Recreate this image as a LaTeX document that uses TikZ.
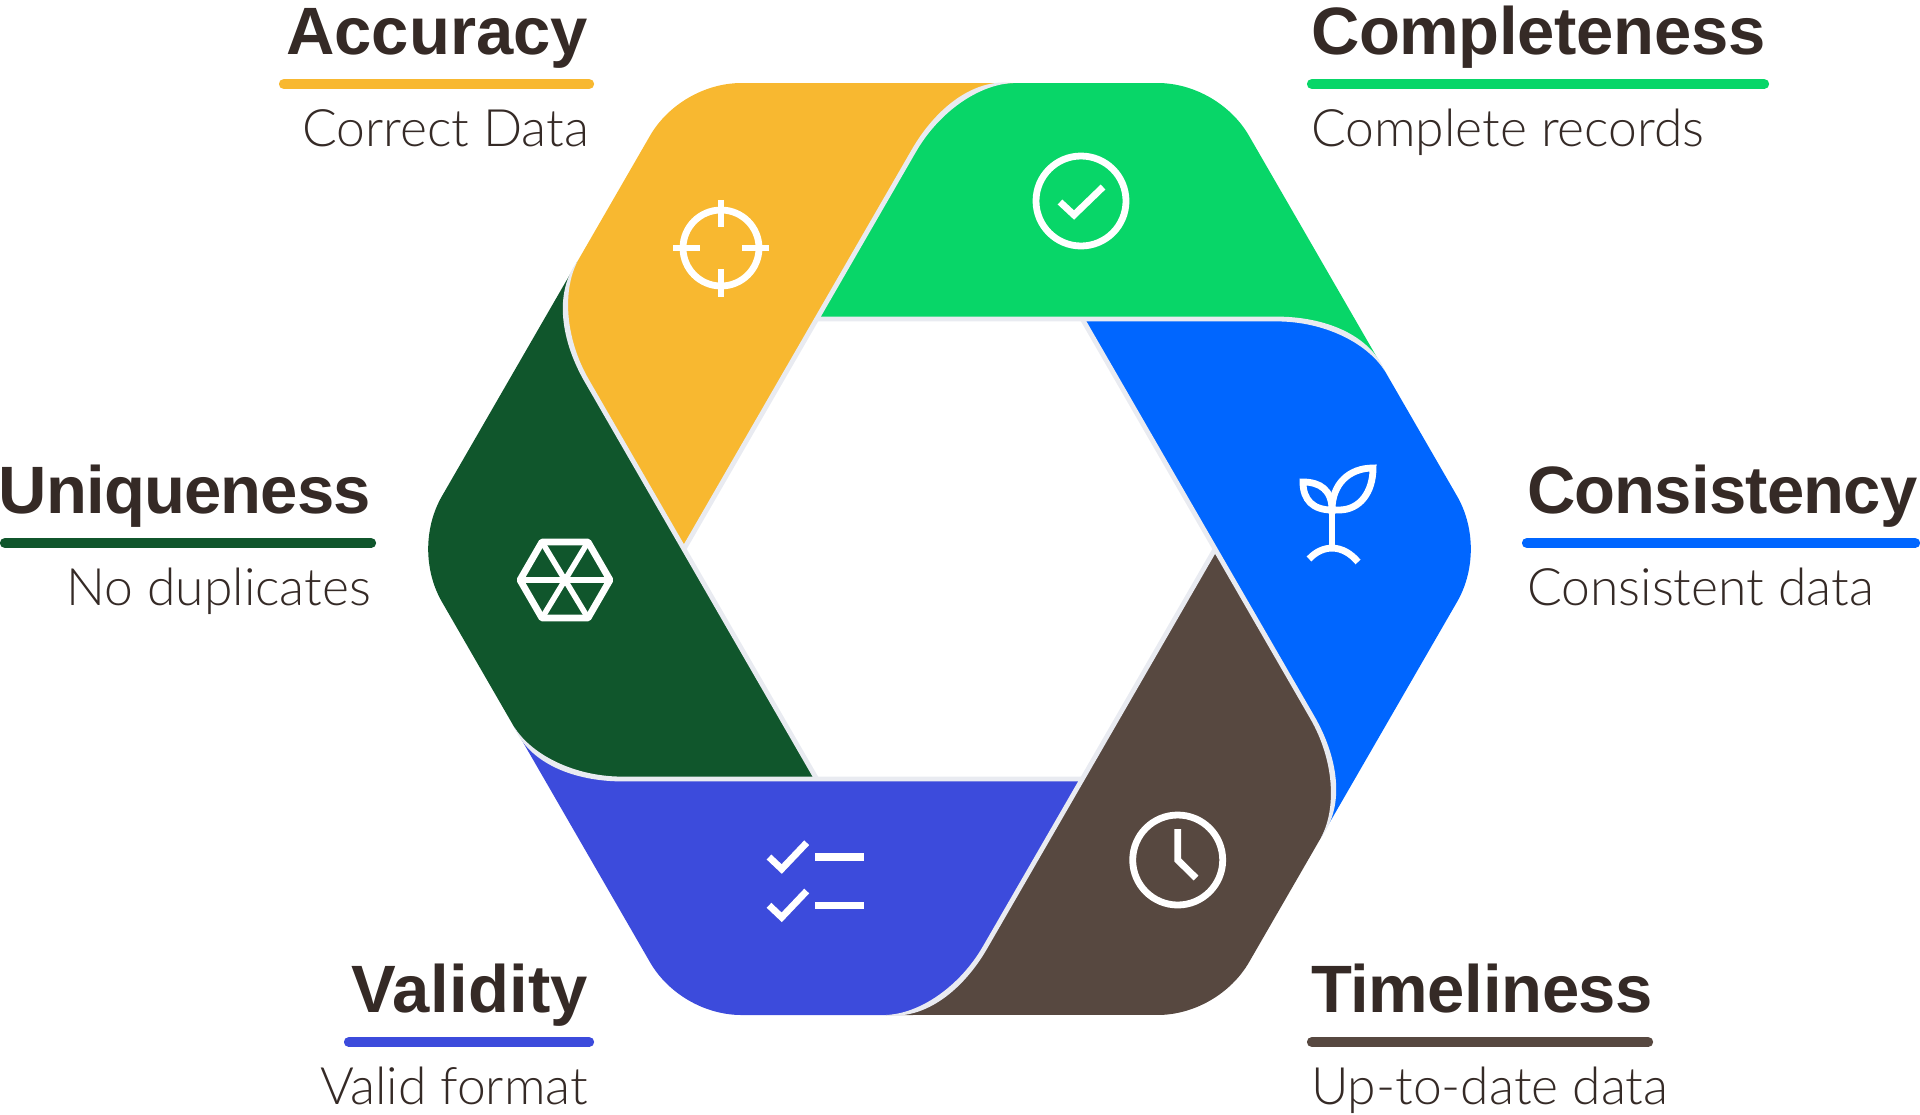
\documentclass[tikz,border=0pt]{standalone}
\usepackage{fontspec}
\setmainfont{Liberation Sans}
\newfontfamily\lightfont{Lato Light}
\usepackage{xcolor}
\definecolor{accYellow}{HTML}{F8B830}
\definecolor{compGreen}{HTML}{08D668}
\definecolor{consBlue}{HTML}{0066FF}
\definecolor{timeBrown}{HTML}{574840}
\definecolor{validIndigo}{HTML}{3C4BDC}
\definecolor{uniqGreen}{HTML}{10562C}
\definecolor{inkBrown}{HTML}{352A26}
\definecolor{seam}{HTML}{E9EBF1}
\newcommand{\tracked}[2]{{\addfontfeature{LetterSpace=#1}#2}}

\begin{document}
\begin{tikzpicture}[
		x=0.5pt, y=-0.5pt,
		% Style definitions
		heading/.style={inner sep=0pt, outer sep=0pt, text=inkBrown, font=\fontsize{33.5}{40}\selectfont\bfseries},
		caption/.style={inner sep=0pt, outer sep=0pt, text=inkBrown, font=\fontsize{25.8}{30}\selectfont\lightfont},
		bar/.style={inner sep=0pt, outer sep=0pt, minimum height=4.8pt, rounded corners=2.2pt},
		icon/.style={draw=white, line width=3.4pt},
		]
		\useasboundingbox (0,0) rectangle (1920,1114);

		% === Ring: one leaf, turned six times ===
		\begin{scope}[shift={(949.5,549)}, yscale=-1]
			\foreach \ang/\col in {0/compGreen, 60/consBlue, 120/timeBrown, 180/validIndigo, -120/uniqGreen, -60/accYellow}
				\fill[\col, rotate=\ang] (-132.5,230) -- (-35.25,398.5)
					.. controls (-11.85,439) and (27.75,466) .. (63.75,466) -- (208,466)
					.. controls (244.6,466) and (281.2,444.9) .. (299.5,413.2) -- (435.3,178)
					.. controls (417.3,209.2) and (374.1,230) .. (327.3,230) -- cycle;
			% seams taper out at the outer edge
			\foreach \ang in {0,60,120,180,-120,-60}
				\fill[seam, rotate=\ang] (-132.5,232.4) -- (327.3,232.4)
					.. controls (374.1,232.4) and (420,215) .. (435.3,178)
					.. controls (417.3,206.5) and (374.1,227.6) .. (327.3,227.6) -- (-132.5,227.6) -- cycle;
		\end{scope}

		% === Icons ===
		% accuracy: crosshair
		\draw[icon] (721,248) circle[radius=38];
		\draw[icon] (721,200) -- (721,227) (721,269) -- (721,297) (673,248) -- (700,248) (742,248) -- (769,248);
		% completeness: check in circle
		\draw[icon] (1081,201) circle[radius=45];
		\draw[icon] (1060,202) -- (1074,215) -- (1103,187);
		% consistency: sprout
		\draw[icon] (1332,547) -- (1332,510);
		\draw[icon] (1309,559) .. controls (1323,544) and (1343,544) .. (1358,562);
		\draw[icon, miter limit=10] (1332,510) .. controls (1332,484) and (1349,468) .. (1373,468)
			.. controls (1373,492) and (1360,510) .. (1339,510) -- cycle;
		\draw[icon, miter limit=10] (1303,482) .. controls (1320,482) and (1332,490) .. (1332,510)
			.. controls (1313,510) and (1303,500) .. (1303,482) -- cycle;
		% timeliness: clock
		\draw[icon] (1177.7,860) circle[radius=45];
		\draw[icon] (1177.7,829) -- (1177.7,860) -- (1196,878);
		% validity: checklist
		\foreach \dy in {0,48.3} {
			\draw[icon] (769,857+\dy) -- (781.7,869+\dy) -- (806.7,842.7+\dy);
			\draw[icon, line width=3.6pt] (815,857+\dy) -- (864,857+\dy);
		}
		% uniqueness: spoked hexagon
		\draw[icon, line join=round] (520,580) -- (542,542) -- (588,542) -- (610,580) -- (588,618) -- (542,618) -- cycle;
		\draw[icon, line width=2.8pt] (520,580) -- (610,580) (542,542) -- (588,618) (588,542) -- (542,618);

		% === Labels, left column ===
		\node[heading, anchor=base east] (accuracy) at (588,54) {Accuracy};
		\node[bar, fill=accYellow, minimum width=157.5pt] (accuracy-bar) at (436.5,84) {};
		\node[caption, anchor=base east] (accuracy-sub) at (589,146) {Correct Data};

		\node[heading, anchor=base east] (uniqueness) at (371,513) {\tracked{-1.2}{Uniqueness}};
		\node[bar, fill=uniqGreen, minimum width=188pt] (uniqueness-bar) at (188,543) {};
		\node[caption, anchor=base east] (uniqueness-sub) at (371,605) {No duplicates};

		\node[heading, anchor=base east] (validity) at (588,1012) {\tracked{0.4}{Validity}};
		\node[bar, fill=validIndigo, minimum width=125pt] (validity-bar) at (469,1042) {};
		\node[caption, anchor=base east] (validity-sub) at (588,1104) {Valid format};

		% === Labels, right column ===
		\node[heading, anchor=base west] (completeness) at (1311,54) {\tracked{-0.5}{Completeness}};
		\node[bar, fill=compGreen, minimum width=231pt] (completeness-bar) at (1538,84) {};
		\node[caption, anchor=base west] (completeness-sub) at (1311,146) {Complete records};

		\node[heading, anchor=base west] (consistency) at (1527,513) {\tracked{-1.2}{Consistency}};
		\node[bar, fill=consBlue, minimum width=199pt] (consistency-bar) at (1721,543) {};
		\node[caption, anchor=base west] (consistency-sub) at (1527,605) {Consistent data};

		\node[heading, anchor=base west] (timeliness) at (1311,1012) {\tracked{-0.5}{Timeliness}};
		\node[bar, fill=timeBrown, minimum width=173pt] (timeliness-bar) at (1480,1042) {};
		\node[caption, anchor=base west] (timeliness-sub) at (1311,1104) {Up-to-date data};
	\end{tikzpicture}
\end{document}
